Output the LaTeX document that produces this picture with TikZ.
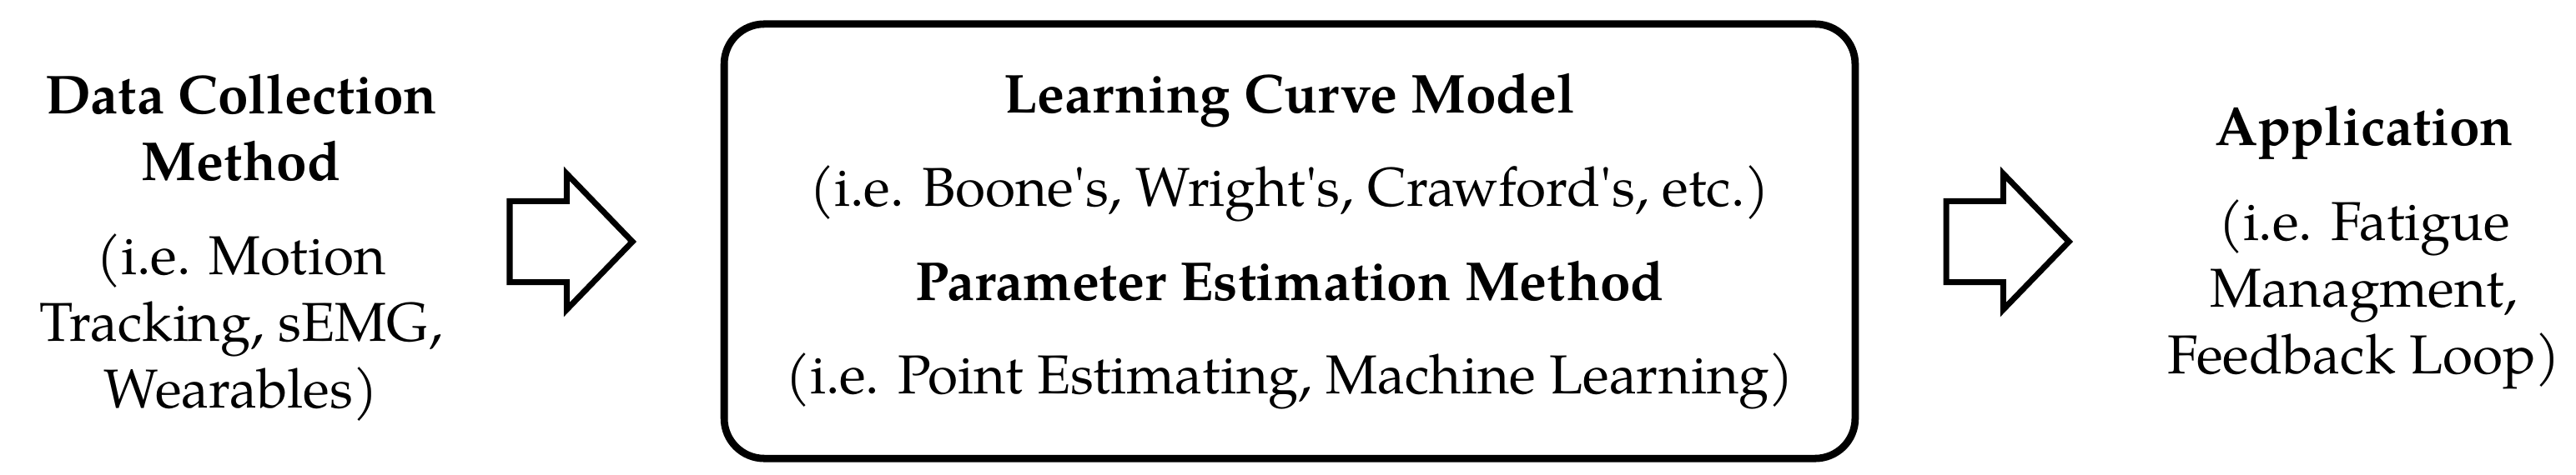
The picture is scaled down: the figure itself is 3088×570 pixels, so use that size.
\documentclass[tikz,border=0pt]{standalone}
\usepackage{fontspec}
\setmainfont{texgyrepagella}[Extension=.otf, UprightFont=*-regular, BoldFont=*-bold, ItalicFont=*-italic, BoldItalicFont=*-bolditalic, Ligatures=TeXOff]
\usetikzlibrary{shapes.arrows}

\tikzset{
  txt/.style={align=center, inner sep=0pt, font=\fontsize{18.7}{22.8}\selectfont},
  panel/.style={draw, line width=2.5pt, rounded corners=0.48cm, minimum width=13.55cm, minimum height=5.21cm, inner sep=0pt, align=center, font=\fontsize{18.7}{32}\selectfont},
  blockarrow/.style={single arrow, draw, line width=2pt, inner xsep=0pt, inner ysep=0.45cm, outer sep=0pt, minimum height=1.47cm, minimum width=1.56cm, single arrow head extend=0.33cm, single arrow tip angle=92}
}

\begin{document}
\begin{tikzpicture}[x=0.01cm, y=-0.01cm]
\useasboundingbox (0,0) rectangle (3088,570);
% input
\node[txt, anchor=north] (collect) at (289,88) {\textbf{Data Collection}\\\textbf{Method}\\[0.33cm](i.e. Motion\\Tracking, sEMG,\\Wearables)};
\node[blockarrow, anchor=tail] (arrin) at (611,290) {};
% model
\node[panel] (model) at (1546,289.5) {\textbf{Learning Curve Model}\\(i.e. Boone's, Wright's, Crawford's, etc.)\\\textbf{Parameter Estimation Method}\\(i.e. Point Estimating, Machine Learning)};
\node[blockarrow, anchor=tail] (arrout) at (2333,290) {};
% output
\node[txt, anchor=north] (apply) at (2834,126) {\textbf{Application}\\[0.34cm](i.e. Fatigue\\Managment,\\Feedback Loop)};
\end{tikzpicture}
\end{document}
